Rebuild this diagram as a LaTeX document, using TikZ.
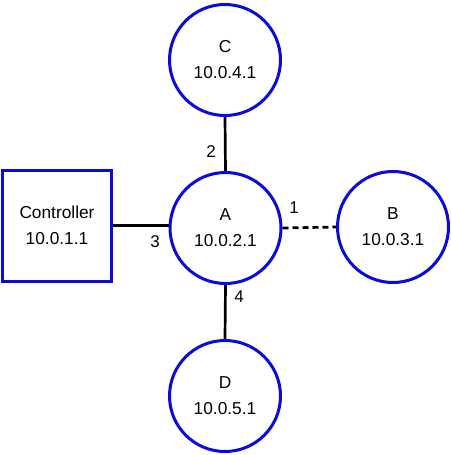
\documentclass[tikz,border=0pt]{standalone}
\usepackage{fontspec}
\setmainfont{Liberation Sans}
\definecolor{nodeblue}{RGB}{10,10,220}
\begin{document}
\begin{tikzpicture}[x=1pt,y=-1pt,
  host/.style={circle,draw=nodeblue,line width=3pt,minimum size=111pt,inner sep=0pt,align=center,
    font=\fontsize{17.3}{26}\selectfont},
  ctrlbox/.style={rectangle,draw=nodeblue,line width=3pt,minimum width=109pt,minimum height=111pt,inner sep=0pt,align=center,
    font=\fontsize{17.3}{26}\selectfont},
  link/.style={line width=2.7pt,black},
  portlbl/.style={font=\fontsize{17}{20}\selectfont,inner sep=0pt}]
\useasboundingbox (0,0) rectangle (452,455);
\node[host] (C) at (225,60) {C\\10.0.4.1};
\node[host] (A) at (225.5,228) {A\\10.0.2.1};
\node[host] (B) at (393,227) {B\\10.0.3.1};
\node[host] (D) at (225,396) {D\\10.0.5.1};
\node[ctrlbox] (ctrl) at (57,225.5) {Controller\\10.0.1.1};
\draw[link] (A.north) -- (C.south);
\draw[link] (ctrl.east) -- (ctrl.east -| A.west);
\draw[link,dash pattern=on 6pt off 4pt] (A.east) -- (B.west);
\draw[link] (A.south) -- (D.north);
\node[portlbl] (l2) at (211,152) {2};
\node[portlbl] (l3) at (155,242) {3};
\node[portlbl] (l1) at (294,208) {1};
\node[portlbl] (l4) at (239,297) {4};
\end{tikzpicture}
\end{document}
